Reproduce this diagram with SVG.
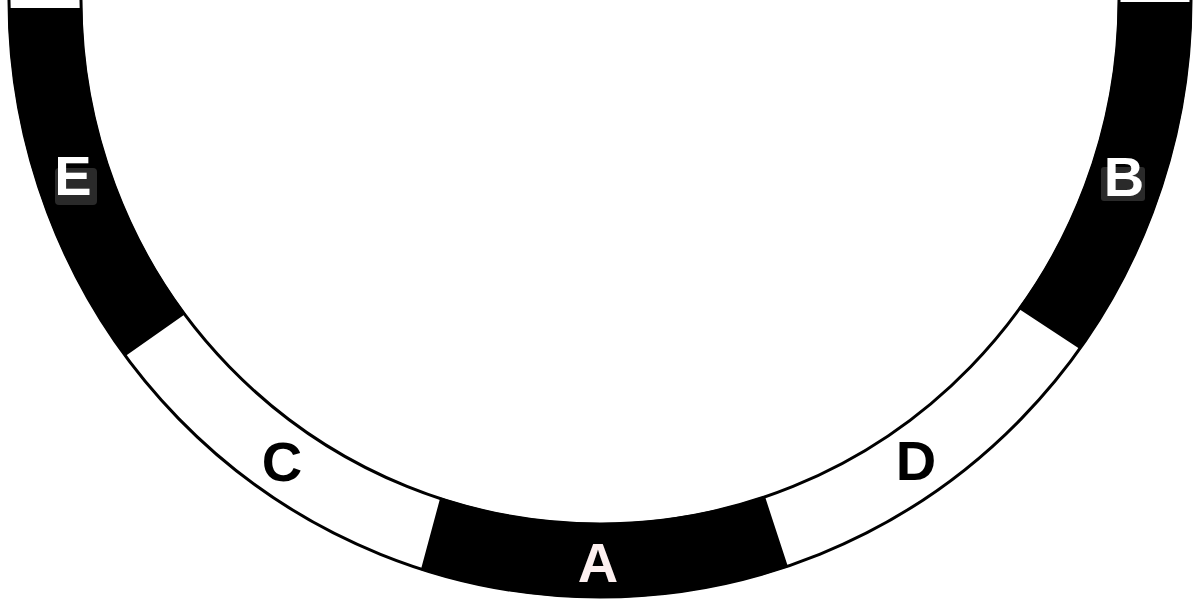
<svg xmlns="http://www.w3.org/2000/svg" width="1200" height="600" viewBox="0 0 1200 600">
<style>
.ringfill{fill:#fff;stroke:none}
.ringline{fill:none;stroke:#000;stroke-width:3}
.seg{fill:#000;stroke:#000;stroke-width:2}
.lbl{font-family:"Liberation Sans",Arial,sans-serif;font-weight:bold;font-size:56px;text-anchor:middle}
.w{fill:#fff}
.k{fill:#000}
.shade{fill:#2a2a2a}
</style>
<defs>
<path id="ringpath" d="M 9.083,-10 A 591 597 0 0 0 600,597 A 591 597 0 0 0 1190.917,-10 L 1118.905,-10 A 519 524 0 0 1 600,524 A 519 524 0 0 1 81.095,-10 Z"/>
</defs>
<rect width="1200" height="600" fill="#fff"/>
<g id="ring">
<use href="#ringpath" class="ringfill"/>
</g>
<g id="connectors"></g>
<g id="node-E">
<path class="seg" d="M 9.07,9 A 591 597 0 0 0 125,355 L 184.2,313.6 A 519 524 0 0 1 81.08,9 Z"/>
</g>
<g id="node-A">
<path class="seg" d="M 422,569.3 A 591 597 0 0 0 786.8,566.4 L 764.1,497.1 A 519 524 0 0 1 441,498.8 Z"/>
</g>
<g id="node-B">
<path class="seg" d="M 1080,348 A 591 597 0 0 0 1190.99,3 L 1118.99,3 A 519 524 0 0 1 1019.7,308.3 Z"/>
</g>
<g id="ring-outline">
<use href="#ringpath" class="ringline"/>
</g>
<g id="labels">
<rect class="shade" x="55" y="168" width="42" height="37" rx="4"/>
<text class="lbl w" x="73" y="195">E</text>
<text class="lbl k" x="282" y="481">C</text>
<text class="lbl" x="598" y="582" fill="#fdf0f0">A</text>
<text class="lbl k" x="916" y="480">D</text>
<rect class="shade" x="1101" y="167" width="44" height="34" rx="3"/>
<text class="lbl w" x="1124" y="196">B</text>
</g>
</svg>
